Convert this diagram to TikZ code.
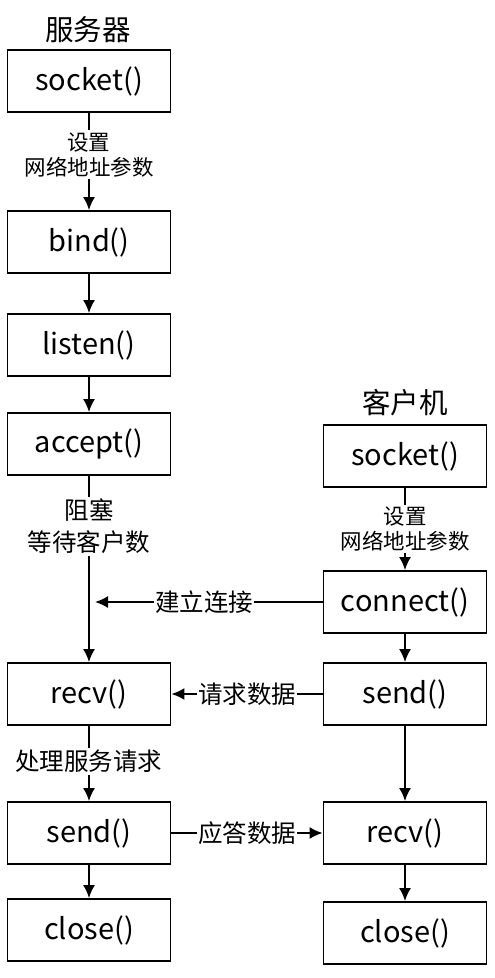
\documentclass[tikz,border=0pt]{standalone}
\usepackage{fontspec}
\setmainfont{Noto Sans CJK SC}
\usetikzlibrary{arrows.meta}

\tikzset{
  callbox/.style = {draw, line width=1.8pt, minimum width=163pt, minimum height=62pt,
    inner sep=0pt, font=\fontsize{29}{34}\selectfont},
  side/.style = {font=\fontsize{28.5}{33}\selectfont},
  note/.style = {fill=white, inner sep=2pt, align=center,
    font=\fontsize{21.5}{25}\selectfont},
  bignote/.style = {note, font=\fontsize{24.5}{32}\selectfont},
  flow/.style = {line width=1.8pt, -{Latex[length=13pt,width=12pt]}},
}

\begin{document}
\begin{tikzpicture}[x=1pt, y=-1pt]
  \useasboundingbox (0,0) rectangle (495,978);

  % server side
  \node [side] (srvtitle) at (88,30) {服务器};
  \node [callbox] (srvsock)   at (89,81)  {socket()};
  \node [callbox] (srvbind)   at (89,242) {bind()};
  \node [callbox] (srvlisten) at (89,345) {listen()};
  \node [callbox] (srvaccept) at (89,444) {accept()};
  \node [callbox] (srvrecv)   at (89,694) {recv()};
  \node [callbox] (srvsend)   at (89,833) {send()};
  \node [callbox] (srvclose)  at (89,930) {close()};

  % client side
  \node [side] (clititle) at (405,403) {客户机};
  \node [callbox] (clisock)  at (405,456) {socket()};
  \node [callbox] (cliconn)  at (405,602) {connect()};
  \node [callbox] (clisend)  at (405,694) {send()};
  \node [callbox] (clirecv)  at (405,833) {recv()};
  \node [callbox] (cliclose) at (405,933) {close()};

  % server flow
  \draw [flow] (srvsock) -- (srvbind)
    node [note, pos=0.43] {设置\\网络地址参数};
  \draw [flow] (srvbind) -- (srvlisten);
  \draw [flow] (srvlisten) -- (srvaccept);
  \draw [flow] (srvaccept) -- (srvrecv)
    node [bignote, pos=0.27] {阻塞\\等待客户数};
  \draw [flow] (srvrecv) -- (srvsend)
    node [bignote, pos=0.47] {处理服务请求};
  \draw [flow] (srvsend) -- (srvclose);

  % client flow
  \draw [flow] (clisock) -- (cliconn)
    node [note, pos=0.5] {设置\\网络地址参数};
  \draw [flow] (cliconn) -- (clisend);
  \draw [flow] (clisend) -- (clirecv);
  \draw [flow] (clirecv) -- (cliclose);

  % exchanges
  \coordinate (joinpt) at ([xshift=6pt]srvaccept.south |- cliconn.west);
  \draw [flow] (cliconn.west) -- (joinpt)
    node [bignote, pos=0.52, inner sep=1pt] {建立连接};
  \draw [flow] (clisend.west) -- (srvrecv.east)
    node [bignote, pos=0.5, inner sep=1pt] {请求数据};
  \draw [flow] (srvsend.east) -- (clirecv.west)
    node [bignote, pos=0.5, inner sep=1pt] {应答数据};
\end{tikzpicture}
\end{document}
